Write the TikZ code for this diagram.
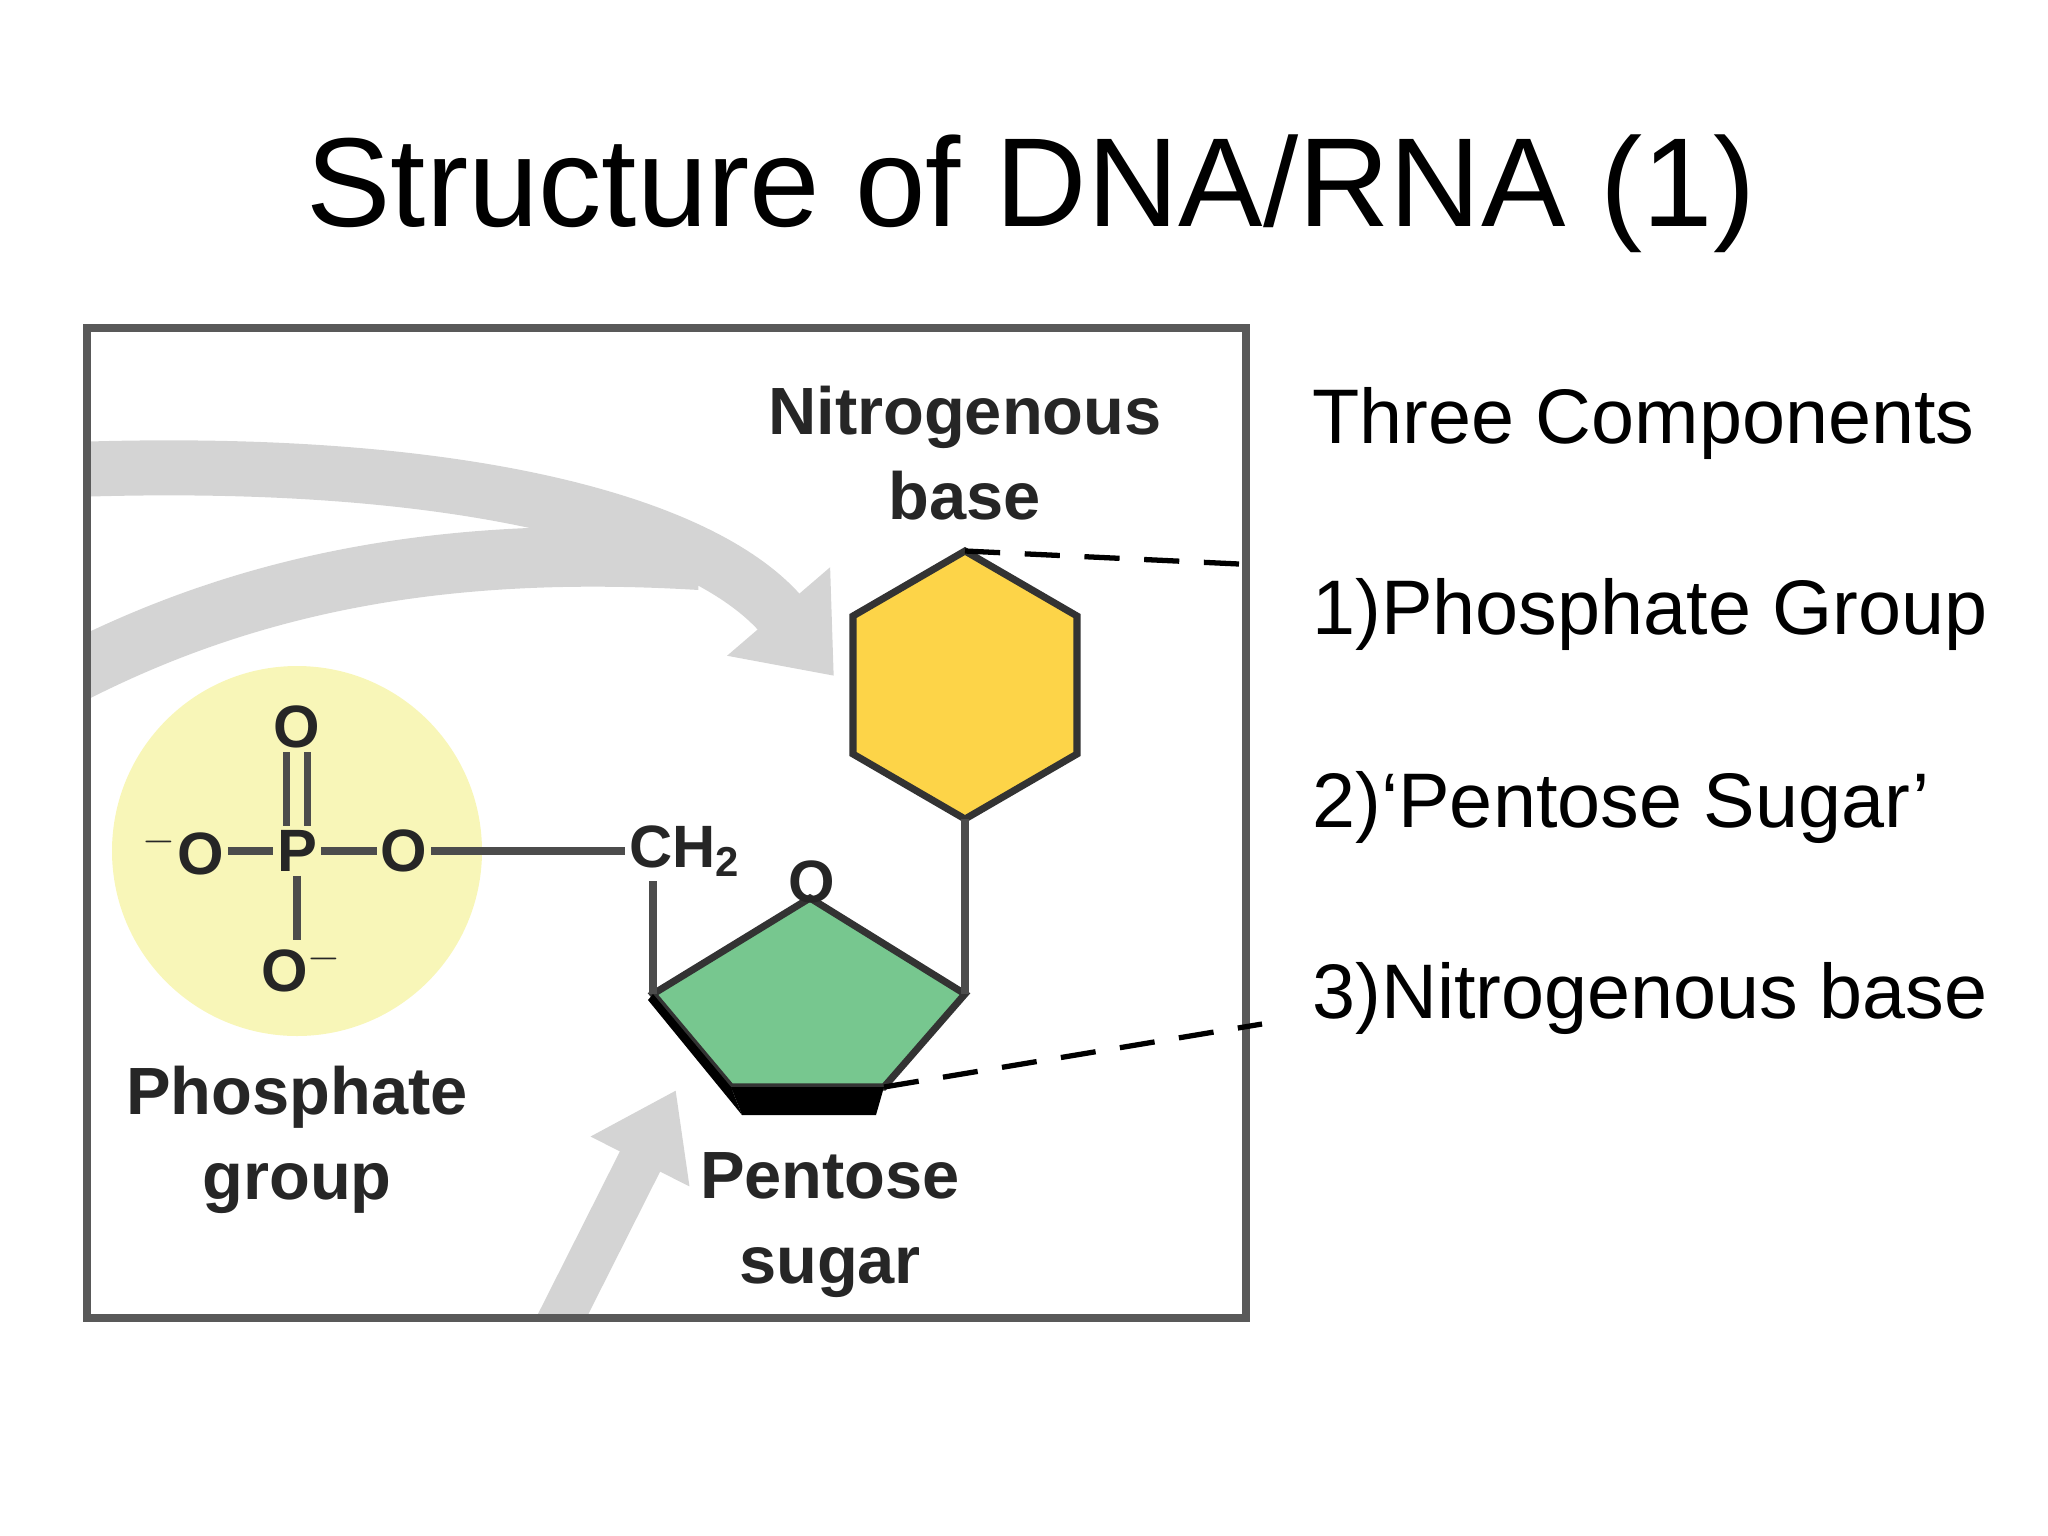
\documentclass[tikz,border=0pt]{standalone}
\usepackage{fontspec}
\setmainfont{Liberation Sans}
\usetikzlibrary{arrows.meta}
\definecolor{arrowgrey}{HTML}{D4D4D4}
\definecolor{phos}{HTML}{F8F6B8}
\definecolor{hexy}{HTML}{FDD448}
\definecolor{pentg}{HTML}{77C78F}
\tikzset{
 lbl/.style={font=\fontsize{19pt}{24pt}\selectfont\bfseries,align=center,text=black!85},
 chem/.style={font=\fontsize{17pt}{19pt}\selectfont\bfseries,inner sep=1pt,text=black!85},
 item/.style={font=\fontsize{22pt}{26pt}\selectfont,anchor=west},
 bond/.style={line width=2.2pt,black!70},
 dashln/.style={line width=1.5pt,dash pattern=on 10pt off 7pt}
}
\begin{document}
\begin{tikzpicture}[x=0.01cm,y=-0.01cm]
\useasboundingbox (0,0) rectangle (2048,1536);
\node[font=\fontsize{36pt}{40pt}\selectfont] (title) at (1031,194) {Structure of DNA/RNA (1)};
% grey arrows clipped to box
\begin{scope}
\clip (87,328) rectangle (1246,1318);
\draw[arrowgrey,line width=0.6cm] (60,680) .. controls (250,580) and (450,545) .. (700,560);
\draw[arrowgrey,line width=0.55cm,-{Triangle[length=0.85cm,width=1.3cm]}] (60,470) .. controls (450,455) and (700,520) .. (834,676);
\draw[arrowgrey,line width=0.45cm,-{Triangle[length=0.8cm,width=1.05cm]}] (540,1360) -- (676,1090);
\end{scope}
\draw[line width=2.5pt,black!65] (87,328) rectangle (1246,1318);
% phosphate
\fill[phos] (297,851) circle (185);
\node[chem] (o1) at (297,727) {O};
\node[chem] (p) at (297,851) {P};
\node[chem] (o2) at (183,851) {$^{-}$O};
\node[chem] (o3) at (404,851) {O};
\node[chem] (o4) at (302,968) {O$^{-}$};
\draw[bond] ([xshift=-3pt]o1.south) -- ([xshift=-3pt]p.north);
\draw[bond] ([xshift=3pt]o1.south) -- ([xshift=3pt]p.north);
\draw[bond] (p.south) -- (o4.north -| p);
\draw[bond] (o2.east) -- (p.west);
\draw[bond] (p.east) -- (o3.west);
\node[lbl] (plab) at (297,1140) {Phosphate\\group};
% sugar
\coordinate (pt) at (810,898);
\coordinate (pr) at (965,994);
\coordinate (pbr) at (884,1087);
\coordinate (pbl) at (731,1087);
\coordinate (pl) at (653,994);
\fill[pentg,draw=black!80,line width=2pt] (pt) -- (pr) -- (pbr) -- (pbl) -- (pl) -- cycle;
\fill[black] (pbl) -- (pbr) -- (876,1115) -- (742,1115) -- cycle;
\fill[black] (pl) -- (pbl) -- (742,1115) -- (648,1000) -- cycle;
\node[chem] (ro) at (812,882) {O};
\node[chem] (ch2) at (685,851) {CH$_\mathbf{2}$};
\draw[bond] (o3.east) -- (ch2.west);
\draw[bond] (pl) -- (pl |- ch2.south);
\node[lbl] (slab) at (830,1225) {Pentose\\sugar};
% base
\draw[fill=hexy,draw=black!80,line width=2pt] (965,551) -- (1077,616) -- (1077,754) -- (965,819) -- (853,754) -- (853,616) -- cycle;
\coordinate (hb) at (965,819);
\coordinate (ht) at (965,551);
\draw[bond] (hb) -- (pr);
\node[lbl] (blab) at (965,453) {Nitrogenous\\base};
% dashes
\coordinate (d1) at (1260,565);
\coordinate (d2) at (1262,1024);
\draw[dashln] (ht) -- (d1);
\draw[dashln] (pbr) -- (d2);
% right text
\node[item] (t0) at (1300,423) {Three Components};
\node[item] (t1) at (1300,614) {1)Phosphate Group};
\node[item] (t2) at (1300,807) {2)‘Pentose Sugar’};
\node[item] (t3) at (1300,998) {3)Nitrogenous base};
\end{tikzpicture}
\end{document}
